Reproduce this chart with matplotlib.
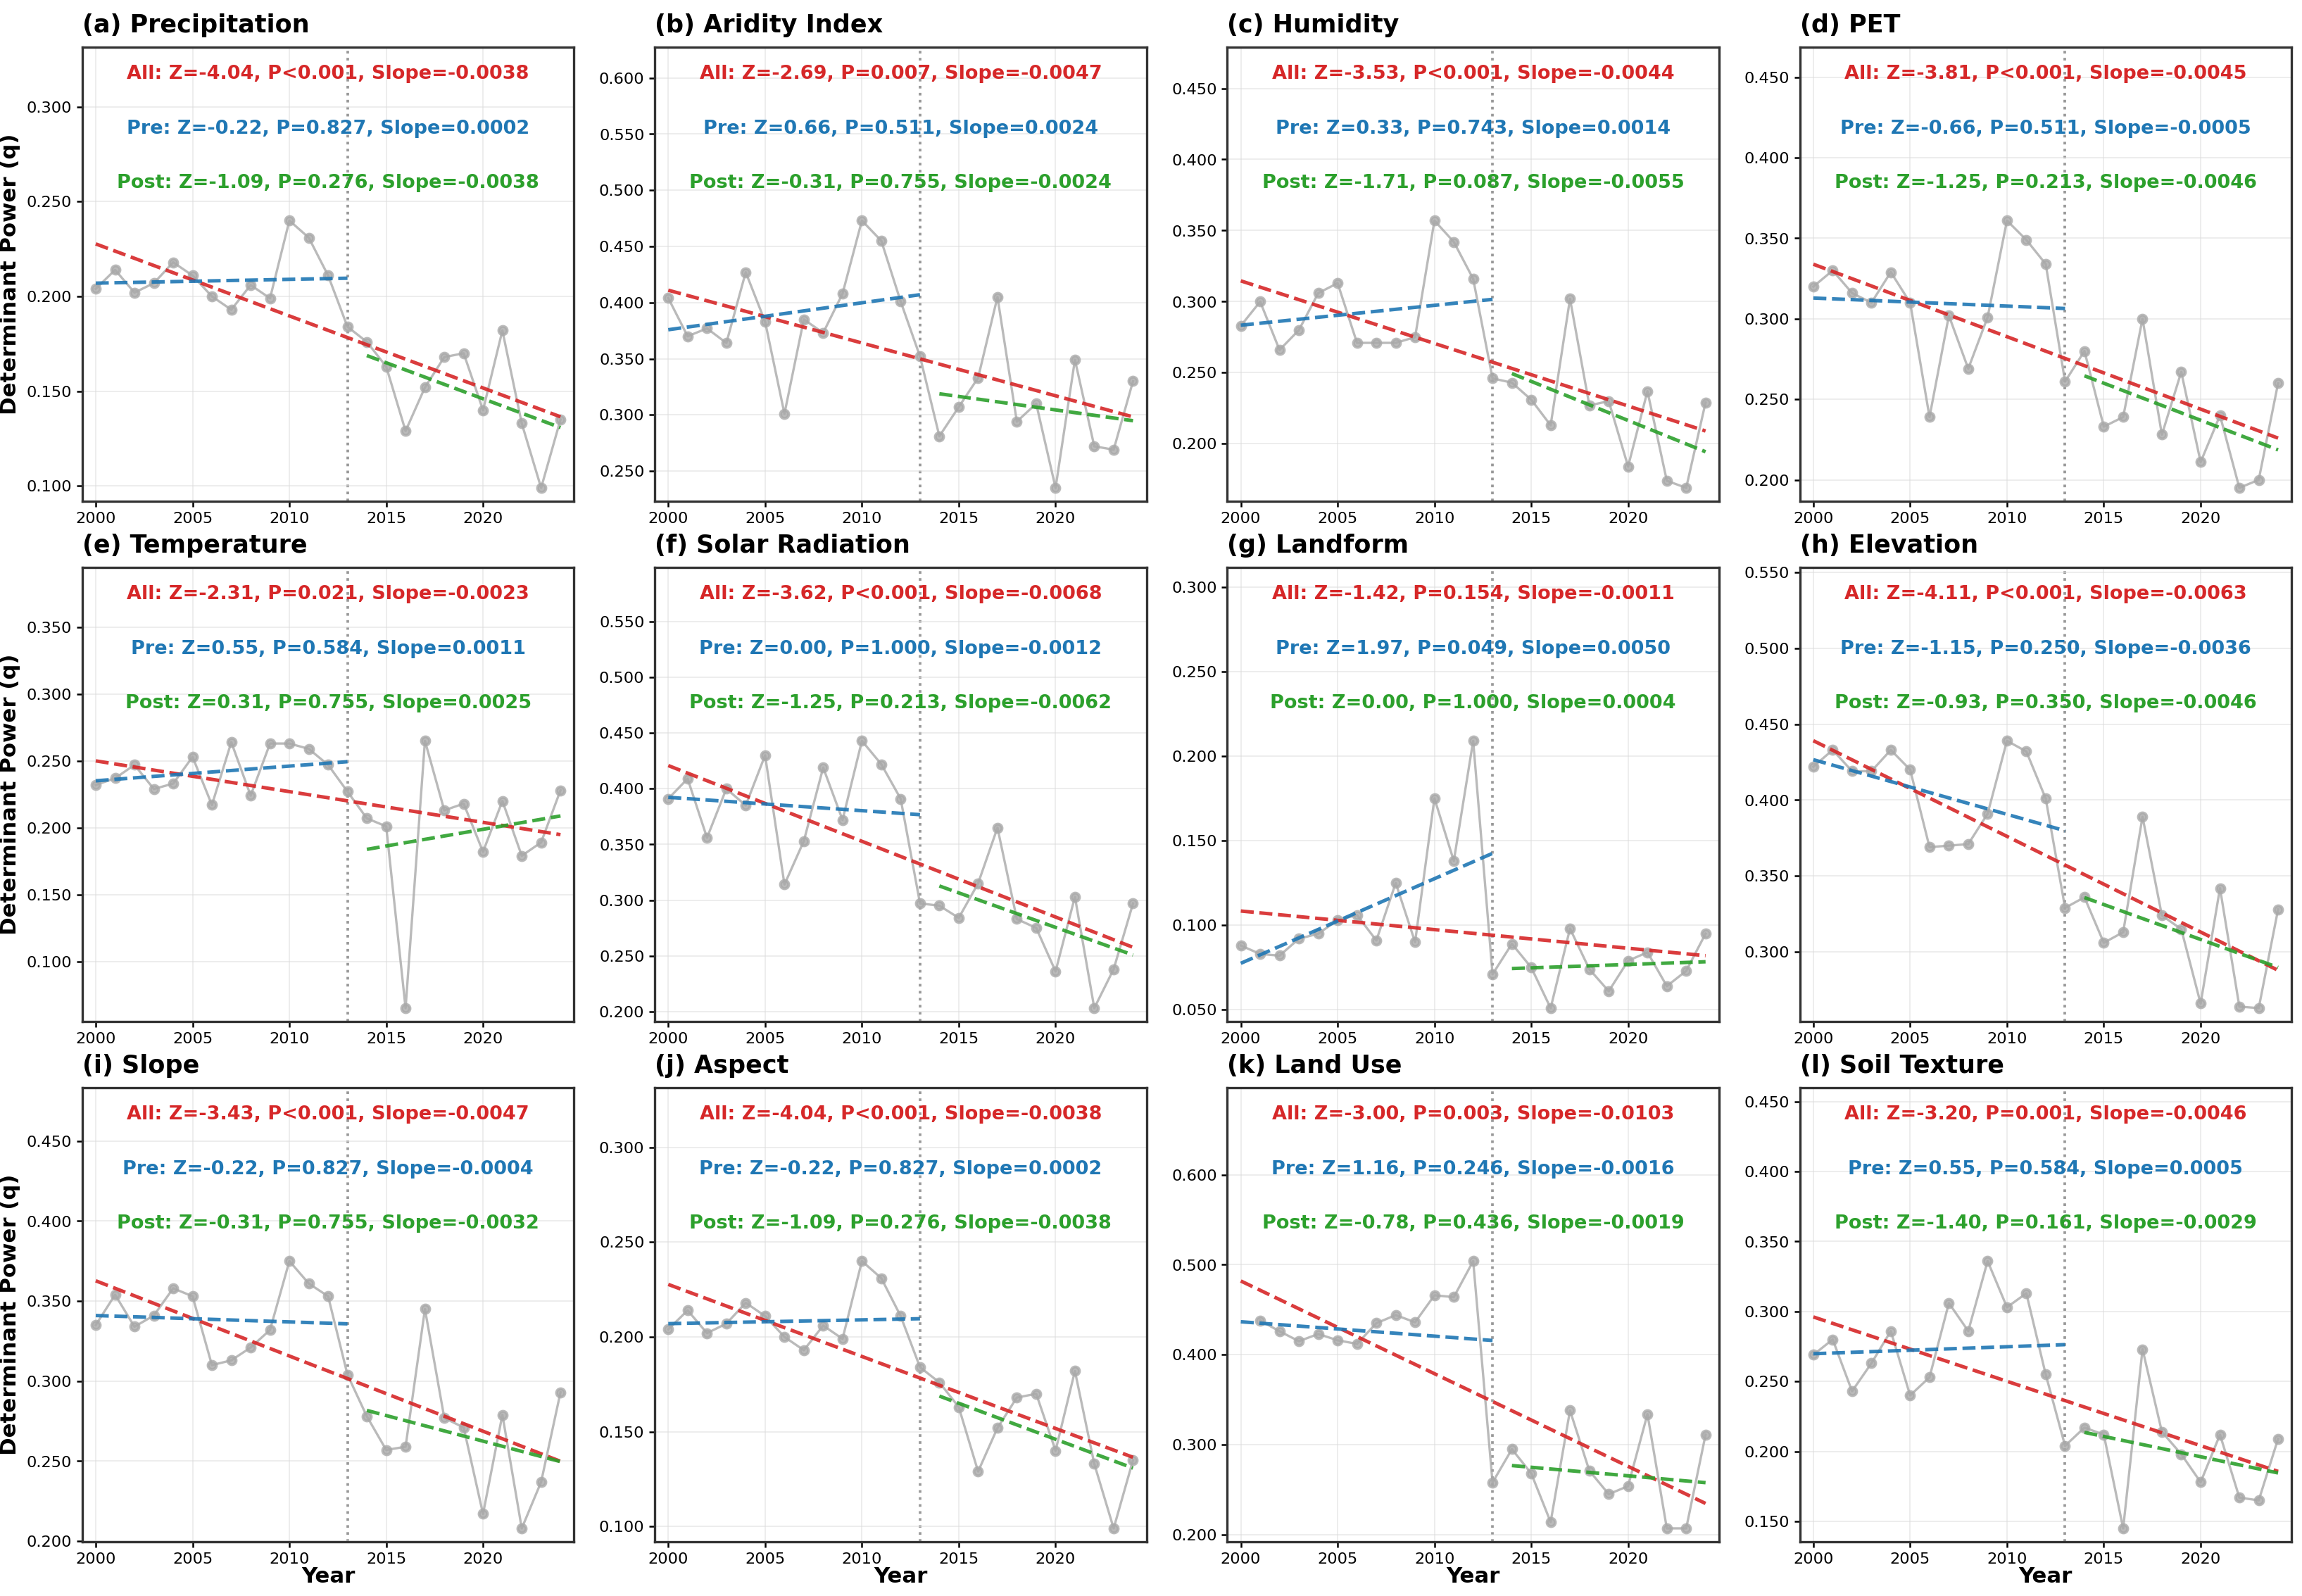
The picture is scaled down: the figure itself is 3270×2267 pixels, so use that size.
import numpy as np
import matplotlib
matplotlib.use("Agg")
import matplotlib.pyplot as plt
from matplotlib.ticker import MultipleLocator, FormatStrFormatter

YEARS = list(range(2000, 2025))
BREAK_YEAR = 2013

# determinant power (q) per factor, 2000-2024
PRECIPITATION = [0.204, 0.214, 0.202, 0.207, 0.218, 0.211, 0.200, 0.193, 0.206, 0.199,
                 0.240, 0.231, 0.211, 0.184, 0.176, 0.163, 0.129, 0.152, 0.168, 0.170,
                 0.140, 0.182, 0.133, 0.099, 0.135]
ARIDITY = [0.404, 0.370, 0.377, 0.364, 0.427, 0.383, 0.301, 0.385, 0.373, 0.408,
           0.473, 0.455, 0.401, 0.352, 0.281, 0.307, 0.333, 0.405, 0.294, 0.310,
           0.235, 0.349, 0.272, 0.269, 0.330]
HUMIDITY = [0.283, 0.300, 0.266, 0.280, 0.306, 0.313, 0.271, 0.271, 0.271, 0.275,
            0.357, 0.342, 0.316, 0.246, 0.243, 0.231, 0.213, 0.302, 0.227, 0.230,
            0.184, 0.237, 0.174, 0.169, 0.229]
PET = [0.320, 0.330, 0.316, 0.310, 0.329, 0.310, 0.239, 0.302, 0.269, 0.301,
       0.361, 0.349, 0.334, 0.261, 0.280, 0.233, 0.239, 0.300, 0.228, 0.267,
       0.211, 0.240, 0.195, 0.200, 0.260]
TEMPERATURE = [0.232, 0.237, 0.247, 0.229, 0.233, 0.253, 0.217, 0.264, 0.224, 0.263,
               0.263, 0.259, 0.247, 0.227, 0.207, 0.201, 0.065, 0.265, 0.213, 0.218,
               0.182, 0.220, 0.179, 0.189, 0.228]
SOLAR = [0.391, 0.409, 0.356, 0.400, 0.385, 0.430, 0.314, 0.353, 0.419, 0.372,
         0.443, 0.422, 0.391, 0.297, 0.295, 0.284, 0.315, 0.365, 0.283, 0.275,
         0.236, 0.303, 0.203, 0.238, 0.297]
LANDFORM = [0.088, 0.083, 0.082, 0.092, 0.095, 0.103, 0.106, 0.091, 0.125, 0.090,
            0.175, 0.138, 0.209, 0.071, 0.089, 0.075, 0.051, 0.098, 0.074, 0.061,
            0.079, 0.084, 0.064, 0.073, 0.095]
ELEVATION = [0.422, 0.433, 0.419, 0.419, 0.433, 0.420, 0.369, 0.370, 0.371, 0.391,
             0.439, 0.432, 0.401, 0.329, 0.336, 0.306, 0.313, 0.389, 0.324, 0.315,
             0.266, 0.342, 0.264, 0.263, 0.328]
SLOPE = [0.335, 0.354, 0.334, 0.341, 0.358, 0.353, 0.310, 0.313, 0.321, 0.332,
         0.375, 0.361, 0.353, 0.304, 0.278, 0.257, 0.259, 0.345, 0.277, 0.271,
         0.217, 0.279, 0.208, 0.237, 0.293]
ASPECT = [0.204, 0.214, 0.202, 0.207, 0.218, 0.211, 0.200, 0.193, 0.206, 0.199,
          0.240, 0.231, 0.211, 0.184, 0.176, 0.163, 0.129, 0.152, 0.168, 0.170,
          0.140, 0.182, 0.133, 0.099, 0.135]
LAND_USE = [np.nan, 0.438, 0.426, 0.415, 0.423, 0.416, 0.412, 0.435, 0.444, 0.436,
            0.466, 0.464, 0.504, 0.258, 0.295, 0.268, 0.214, 0.338, 0.271, 0.245,
            0.254, 0.334, 0.207, 0.207, 0.311]
SOIL_TEXTURE = [0.269, 0.280, 0.243, 0.263, 0.286, 0.240, 0.253, 0.306, 0.286, 0.336,
                0.303, 0.313, 0.255, 0.204, 0.217, 0.212, 0.145, 0.273, 0.214, 0.198,
                0.178, 0.212, 0.167, 0.165, 0.209]

SERIES = [PRECIPITATION, ARIDITY, HUMIDITY, PET, TEMPERATURE, SOLAR,
          LANDFORM, ELEVATION, SLOPE, ASPECT, LAND_USE, SOIL_TEXTURE]
TITLES = ["(a) Precipitation", "(b) Aridity Index", "(c) Humidity", "(d) PET",
          "(e) Temperature", "(f) Solar Radiation", "(g) Landform", "(h) Elevation",
          "(i) Slope", "(j) Aspect", "(k) Land Use", "(l) Soil Texture"]

# Mann-Kendall Z, p-value and Sen's slope (p < 0.001 stored as 0.0004)
Z_ALL = [-4.04, -2.69, -3.53, -3.81, -2.31, -3.62, -1.42, -4.11, -3.43, -4.04, -3.00, -3.20]
P_ALL = [0.0004, 0.007, 0.0004, 0.0004, 0.021, 0.0004, 0.154, 0.0004, 0.0004, 0.0004, 0.003, 0.001]
S_ALL = [-0.0038, -0.0047, -0.0044, -0.0045, -0.0023, -0.0068, -0.0011, -0.0063, -0.0047, -0.0038, -0.0103, -0.0046]

Z_PRE = [-0.22, 0.66, 0.33, -0.66, 0.55, 0.00, 1.97, -1.15, -0.22, -0.22, 1.16, 0.55]
P_PRE = [0.827, 0.511, 0.743, 0.511, 0.584, 1.000, 0.049, 0.250, 0.827, 0.827, 0.246, 0.584]
S_PRE = [0.0002, 0.0024, 0.0014, -0.0005, 0.0011, -0.0012, 0.0050, -0.0036, -0.0004, 0.0002, -0.0016, 0.0005]

Z_POST = [-1.09, -0.31, -1.71, -1.25, 0.31, -1.25, 0.00, -0.93, -0.31, -1.09, -0.78, -1.40]
P_POST = [0.276, 0.755, 0.087, 0.213, 0.755, 0.213, 1.000, 0.350, 0.755, 0.276, 0.436, 0.161]
S_POST = [-0.0038, -0.0024, -0.0055, -0.0046, 0.0025, -0.0062, 0.0004, -0.0046, -0.0032, -0.0038, -0.0019, -0.0029]

# trend line value at the first year of each period
START_ALL = [0.2277, 0.411, 0.3146, 0.3339, 0.250, 0.4208, 0.1084, 0.4391, 0.3627, 0.2277, 0.4819, 0.2961]
START_PRE = [0.207, 0.3758, 0.2834, 0.3129, 0.2351, 0.3923, 0.0775, 0.4266, 0.341, 0.207, 0.4366, 0.2698]
START_POST = [0.1688, 0.3188, 0.2494, 0.2646, 0.1838, 0.3127, 0.0744, 0.3358, 0.2817, 0.1688, 0.2768, 0.2136]

YTICK_STEP = [0.05, 0.05, 0.05, 0.05, 0.05, 0.05, 0.05, 0.05, 0.05, 0.05, 0.1, 0.05]

RED, BLUE, GREEN = "#d62728", "#1f77b4", "#2ca02c"


def stat_text(name, z, p, s):
    ptxt = "P<0.001" if p < 0.001 else f"P={p:.3f}"
    return f"{name}: Z={z:.2f}, {ptxt}, Slope={s:.4f}"


def trend(ax, x0, x1, start, slope, color):
    x = np.array([x0, x1])
    ax.plot(x, start + slope * (x - x0), "--", color=color, lw=1.2, alpha=0.9, zorder=3)


fig, axes = plt.subplots(3, 4, figsize=(10.9, 7.557), dpi=300)
fig.subplots_adjust(left=0.0357, right=0.9955, top=0.9706, bottom=0.034,
                    wspace=0.164, hspace=0.145)

years = np.array(YEARS)
for i, ax in enumerate(axes.ravel()):
    y = np.array(SERIES[i], dtype=float)
    ax.plot(years, y, "-o", color="#a9a9a9", lw=0.8, ms=2.8, alpha=0.8, zorder=2)

    ax.axvline(BREAK_YEAR, color="gray", ls=":", lw=0.9, alpha=0.8, zorder=1)
    trend(ax, YEARS[0], YEARS[-1], START_ALL[i], S_ALL[i], RED)
    trend(ax, YEARS[0], BREAK_YEAR, START_PRE[i], S_PRE[i], BLUE)
    trend(ax, BREAK_YEAR + 1, YEARS[-1], START_POST[i], S_POST[i], GREEN)

    lo, hi = np.nanmin(y), np.nanmax(y)
    r = hi - lo
    ax.set_ylim(lo - 0.05 * r, hi + 0.65 * r)
    ax.set_xlim(YEARS[0] - 0.7, YEARS[-1] + 0.7)
    ax.xaxis.set_major_locator(MultipleLocator(5))
    ax.yaxis.set_major_locator(MultipleLocator(YTICK_STEP[i]))
    ax.yaxis.set_major_formatter(FormatStrFormatter("%.3f"))
    ax.tick_params(labelsize=5.4, length=2, width=0.6, pad=1.5)
    ax.grid(True, color="#dddddd", lw=0.4, alpha=0.6)
    for sp in ax.spines.values():
        sp.set_color("#333333")
        sp.set_linewidth(0.8)

    ax.text(0.5, 0.94, stat_text("All", Z_ALL[i], P_ALL[i], S_ALL[i]), color=RED,
            transform=ax.transAxes, ha="center", va="center", fontsize=6.5, fontweight="bold")
    ax.text(0.5, 0.82, stat_text("Pre", Z_PRE[i], P_PRE[i], S_PRE[i]), color=BLUE,
            transform=ax.transAxes, ha="center", va="center", fontsize=6.5, fontweight="bold")
    ax.text(0.5, 0.70, stat_text("Post", Z_POST[i], P_POST[i], S_POST[i]), color=GREEN,
            transform=ax.transAxes, ha="center", va="center", fontsize=6.5, fontweight="bold")

    ax.set_title(TITLES[i], loc="left", fontsize=8.4, fontweight="bold", pad=5)
    if i % 4 == 0:
        ax.set_ylabel("Determinant Power (q)", fontsize=7.4, fontweight="bold", labelpad=2)
    if i >= 8:
        ax.set_xlabel("Year", fontsize=7.4, fontweight="bold", labelpad=0)

fig.savefig("out.png", dpi=300)
